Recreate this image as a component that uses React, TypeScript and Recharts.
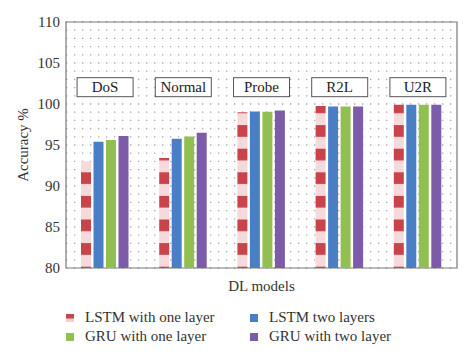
import React from "react";
import { Bar, BarChart, CartesianGrid, ReferenceArea, ReferenceDot, XAxis, YAxis } from "recharts";

const categories = ["DoS", "Normal", "Probe", "R2L", "U2R"];
const lstmOne = [93.0, 93.4, 99.0, 99.75, 99.9];
const lstmTwo = [95.4, 95.75, 99.1, 99.7, 99.9];
const gruOne = [95.6, 96.05, 99.05, 99.7, 99.9];
const gruTwo = [96.1, 96.5, 99.2, 99.7, 99.9];
const yTicks = [80, 85, 90, 95, 100, 105, 110];
const yDomain = [80, 110];
const gridStep = 1;
const labelLevel = 102.05;

const series = [
  { key: "lstmOne", name: "LSTM with one layer", color: "#c9444a" },
  { key: "lstmTwo", name: "LSTM two layers", color: "#4a7fc5" },
  { key: "gruOne", name: "GRU with one layer", color: "#92bf51" },
  { key: "gruTwo", name: "GRU with two layer", color: "#7c5ca8" },
];

const data = categories.map((name, i) => ({
  name,
  lstmOne: lstmOne[i],
  lstmTwo: lstmTwo[i],
  gruOne: gruOne[i],
  gruTwo: gruTwo[i],
}));

const serif = "'Liberation Serif', 'DejaVu Serif', serif";

// dotted grid rows, one per unit of the y domain
const gridRows = ({ offset }: any) => {
  const n = (yDomain[1] - yDomain[0]) / gridStep;
  const rows: number[] = [];
  for (let i = 0; i <= n; i++) rows.push(offset.top + (offset.height * i) / n);
  return rows;
};

const BoxLabel = (props: any) => {
  const { cx, cy, text } = props;
  return (
    <g>
      <rect x={cx - 28} y={cy - 9.5} width={56} height={19} fill="#fff" stroke="#555" strokeWidth={1} />
      <text x={cx} y={cy + 5} textAnchor="middle" fontFamily={serif} fontSize={15} fill="#222">
        {text}
      </text>
    </g>
  );
};

const Swatch = ({ color, striped }: { color: string; striped?: boolean }) => (
  <svg width={8} height={8} style={{ display: "block" }}>
    <rect x={0} y={0} width={8} height={8} fill={striped ? "#f3cfd0" : color} />
    {striped && <rect x={0} y={0} width={8} height={4.5} fill={color} />}
  </svg>
);

export default function App() {
  return (
    <div style={{ position: "absolute", left: 0, top: 0, width: 474, height: 362, background: "#fff" }}>
      <BarChart
        width={474}
        height={362}
        data={data}
        margin={{ top: 22, right: 17, left: 0, bottom: 64 }}
        barSize={10}
        barGap={2.5}
      >
        <defs>
          <pattern id="stripeRed" patternUnits="userSpaceOnUse" x={0} y={7.1} width={20} height={23.6}>
            <rect x={0} y={0} width={20} height={23.6} fill="#f6d9da" />
            <rect x={0} y={0} width={20} height={11.7} fill="#c9444a" />
          </pattern>
        </defs>
        <CartesianGrid
          vertical={false}
          stroke="#a8a8a8"
          strokeWidth={1.3}
          strokeDasharray="1.3 6.7"
          horizontalCoordinatesGenerator={gridRows}
        />
        <XAxis
          dataKey="name"
          tick={false}
          tickLine={false}
          axisLine={false}
          height={30}
          label={{ value: "DL models", position: "insideBottom", offset: 7, style: { fontFamily: serif, fontSize: 15, fill: "#333" } }}
        />
        <YAxis
          domain={yDomain}
          ticks={yTicks}
          width={66}
          tickLine={false}
          axisLine={false}
          tickMargin={0}
          tick={{ fontFamily: serif, fontSize: 15, fill: "#333" }}
          label={{ value: "Accuracy %", angle: -90, position: "insideLeft", offset: 23, style: { fontFamily: serif, fontSize: 15, fill: "#333", textAnchor: "middle" } }}
        />
        <ReferenceArea y1={80} y2={110} fill="none" stroke="#7a7a7a" strokeWidth={1.2} ifOverflow="visible" />
        <Bar dataKey="lstmOne" name={series[0].name} fill="url(#stripeRed)" isAnimationActive={false} />
        <Bar dataKey="lstmTwo" name={series[1].name} fill={series[1].color} isAnimationActive={false} />
        <Bar dataKey="gruOne" name={series[2].name} fill={series[2].color} isAnimationActive={false} />
        <Bar dataKey="gruTwo" name={series[3].name} fill={series[3].color} isAnimationActive={false} />
        {categories.map((c) => (
          <ReferenceDot
            key={c}
            x={c}
            y={labelLevel}
            r={0}
            ifOverflow="visible"
            shape={(p: any) => <BoxLabel {...p} text={c} />}
          />
        ))}
      </BarChart>
      <div
        style={{
          position: "absolute",
          left: 66,
          top: 309,
          display: "grid",
          gridTemplateColumns: "184px 200px",
          rowGap: 2,
          fontFamily: serif,
          fontSize: 15,
          color: "#333",
          lineHeight: "17px",
        }}
      >
        {series.map((s, i) => (
          <div key={s.key} style={{ display: "flex", alignItems: "center" }}>
            <Swatch color={s.color} striped={i === 0} />
            <span style={{ marginLeft: 11 }}>{s.name}</span>
          </div>
        ))}
      </div>
    </div>
  );
}
